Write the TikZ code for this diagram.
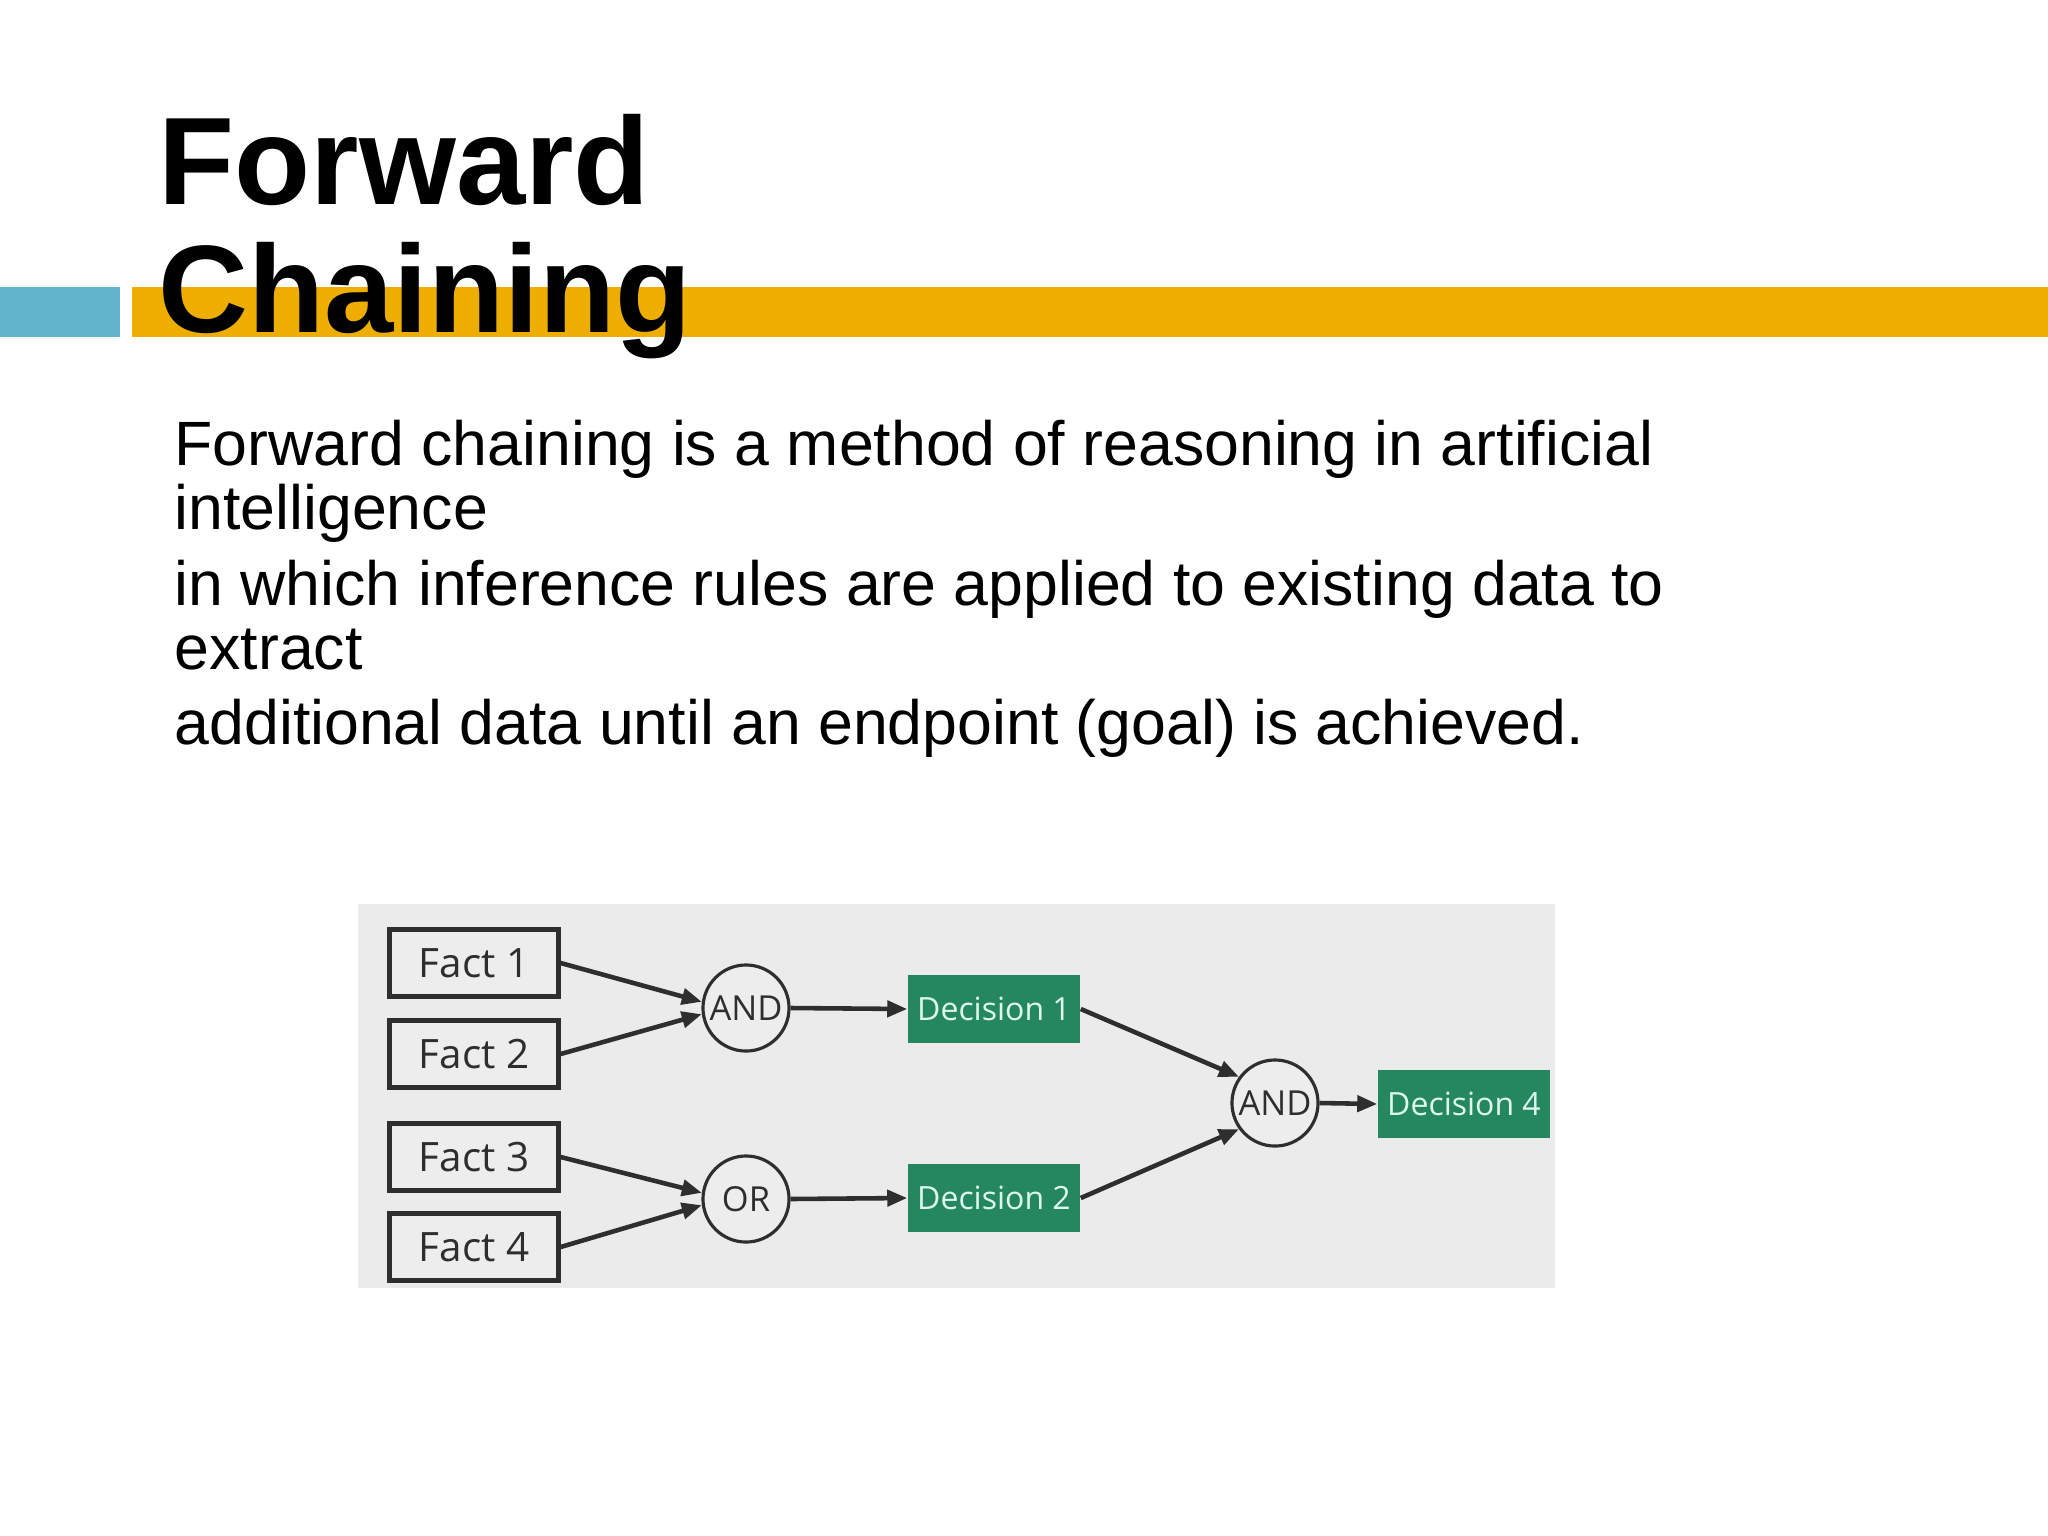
\documentclass[tikz,border=0pt]{standalone}
\usepackage{fontspec}
\setmainfont{Liberation Sans}
\newfontfamily\diagfont{Open Sans}
\usetikzlibrary{arrows.meta}
\definecolor{barblue}{HTML}{62B4CB}
\definecolor{baryellow}{HTML}{EDAE00}
\definecolor{panelgray}{HTML}{EBEBEB}
\definecolor{boxgray}{HTML}{EDEDED}
\definecolor{inkgray}{HTML}{2E2E2E}
\definecolor{decgreen}{HTML}{24875F}
\definecolor{decmint}{HTML}{DDF7EC}
\tikzset{
  titletext/.style={anchor=base west, inner sep=0pt, font=\fontsize{35.4}{36}\selectfont\bfseries},
  bodytext/.style={anchor=base west, inner sep=0pt, font=\fontsize{17.8}{18}\selectfont},
  factbox/.style={draw=inkgray, line width=1.2pt, fill=boxgray, minimum width=1.69cm, minimum height=0.67cm, inner sep=0pt, text=inkgray, font=\diagfont\fontsize{11.5}{12}\selectfont},
  gatenode/.style={circle, draw=inkgray, line width=0.9pt, fill=boxgray, minimum size=0.86cm, inner sep=0pt, text=inkgray, font=\diagfont\fontsize{9.8}{10}\selectfont},
  decbox/.style={fill=decgreen, minimum width=1.72cm, minimum height=0.68cm, inner sep=0pt, text=decmint, font=\diagfont\fontsize{9.1}{10}\selectfont},
  link/.style={draw=inkgray, line width=1.3pt, -{Triangle[length=0.2cm, width=0.16cm]}}
}
\begin{document}
\begin{tikzpicture}[x=0.01cm, y=-0.01cm]
\useasboundingbox[fill=white] (0,0) rectangle (2048,1536);
% header bars
\fill[barblue] (0,287) rectangle (120,337);
\fill[baryellow] (132,287) rectangle (2048,337);
% title
\node[titletext] (t1) at (158,204) {Forward};
\node[titletext] (t2) at (158,332) {Chaining};
% body
\node[bodytext] (b1) at (174,465) {Forward chaining is a method of reasoning in artificial};
\node[bodytext] (b2) at (174,529) {intelligence};
\node[bodytext] (b3) at (174,605) {in which inference rules are applied to existing data to};
\node[bodytext] (b4) at (174,669) {extract};
\node[bodytext] (b5) at (174,744) {additional data until an endpoint (goal) is achieved.};
% diagram panel
\fill[panelgray] (358,904) rectangle (1555,1288);
\node[factbox] (f1) at (474,963) {Fact 1};
\node[factbox] (f2) at (474,1054) {Fact 2};
\node[factbox] (f3) at (474,1157) {Fact 3};
\node[factbox] (f4) at (474,1247) {Fact 4};
\node[gatenode] (and1) at (746,1008) {AND};
\node[gatenode] (or1) at (746,1199) {OR};
\node[decbox] (d1) at (994,1009) {Decision 1};
\node[decbox] (d2) at (994,1198) {Decision 2};
\node[gatenode] (and2) at (1275,1103) {AND};
\node[decbox] (d4) at (1464,1104) {Decision 4};
\draw[link] (f1.east) -- (and1.172);
\draw[link] (f2.east) -- (and1.188);
\draw[link] (f3.east) -- (or1.172);
\draw[link] (f4.east) -- (or1.188);
\draw[link] (and1.east) -- (d1.west);
\draw[link] (or1.east) -- (d2.west);
\draw[link] (d1.east) -- (and2.144);
\draw[link] (d2.east) -- (and2.216);
\draw[link] (and2.east) -- (d4.west);
\end{tikzpicture}
\end{document}
